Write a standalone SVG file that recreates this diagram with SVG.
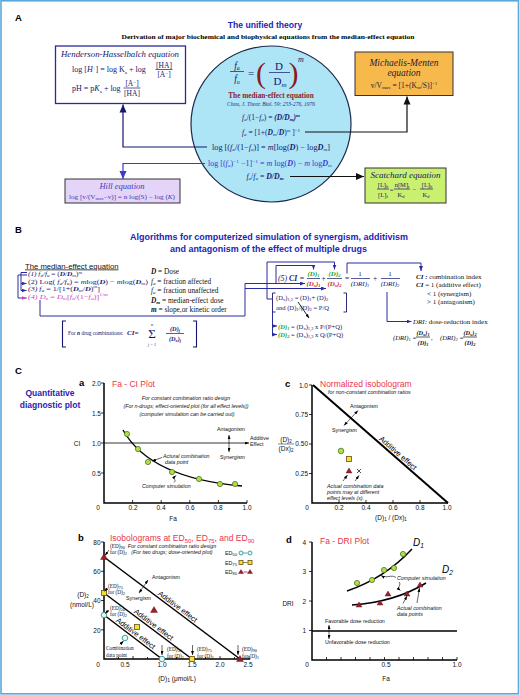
<svg xmlns="http://www.w3.org/2000/svg" width="520" height="695" viewBox="0 0 520 695">
<defs>
<style>
text{font-family:"Liberation Serif","Times New Roman",serif}
.s{font-family:"Liberation Sans",Arial,sans-serif}
.i{font-style:italic}
.b{font-weight:bold}
.nv{fill:#16166e}
.ttl{font-family:"Liberation Sans",Arial,sans-serif;font-weight:bold;fill:#2424b4}
.red{font-family:"Liberation Sans",Arial,sans-serif;fill:#e8364c;font-size:8.5px}
.lbl{font-family:"Liberation Sans",Arial,sans-serif;font-weight:bold;font-size:9.5px;fill:#000}
.ax{stroke:#000;stroke-width:1.5;fill:none}
.tk{stroke:#000;stroke-width:0.8}
.tl{font-family:"Liberation Sans",Arial,sans-serif;font-size:6.5px;fill:#111}
.nt{font-family:"Liberation Sans",Arial,sans-serif;font-size:5.3px;fill:#111}
.gp{fill:#b2de4c;stroke:#4a7a18;stroke-width:0.8}
.yp{fill:#efe03a;stroke:#6a5010;stroke-width:0.8}
.rp{fill:#98202e;stroke:#5a0d14;stroke-width:0.4}
.cp{fill:#e6f6f4;stroke:#2e9898;stroke-width:0.9}
.an{stroke:#000;stroke-width:0.6;fill:none}
.cB{fill:none;stroke:#2b2ba0;stroke-width:1}
.grn{fill:#22a02a}
.rd{fill:#cc2a2a}
.fr{stroke:#16166e;stroke-width:0.7}
.box{stroke:#333;stroke-width:1}
</style>
<marker id="mN" markerUnits="userSpaceOnUse" markerWidth="9" markerHeight="8" refX="8" refY="4" orient="auto"><path d="M0,0.5L8,4L0,7.5z" fill="#16166e"/></marker>
<marker id="mBl" markerUnits="userSpaceOnUse" markerWidth="9" markerHeight="8" refX="8" refY="4" orient="auto"><path d="M0,0.5L8,4L0,7.5z" fill="#3a3ad0"/></marker>
<marker id="mK" markerUnits="userSpaceOnUse" markerWidth="9" markerHeight="8" refX="8" refY="4" orient="auto"><path d="M0,0.5L8,4L0,7.5z" fill="#111"/></marker>
<marker id="mB" markerUnits="userSpaceOnUse" markerWidth="5" markerHeight="4" refX="5" refY="2" orient="auto"><path d="M0,0L5,2L0,4z" fill="#2b2ba0"/></marker>
<marker id="mP" markerUnits="userSpaceOnUse" markerWidth="5" markerHeight="4" refX="5" refY="2" orient="auto"><path d="M0,0L5,2L0,4z" fill="#d040c0"/></marker>
<marker id="mS" markerUnits="userSpaceOnUse" markerWidth="4" markerHeight="3" refX="4" refY="1.5" orient="auto-start-reverse"><path d="M0,0L4,1.5L0,3z" fill="#000"/></marker>
</defs>
<rect x="0" y="0" width="520" height="695" fill="#fff"/>
<rect x="1" y="0.8" width="517.5" height="693" fill="none" stroke="#5aa8dc" stroke-width="1.6"/>

<!-- ============ SECTION A ============ -->
<text class="lbl" x="15" y="21">A</text>
<text class="ttl" x="265" y="28" text-anchor="middle" font-size="8.6">The unified theory</text>
<text class="b" x="268" y="39" text-anchor="middle" font-size="7" textLength="293" lengthAdjust="spacingAndGlyphs">Derivation of major biochemical and biophysical equations from the median-effect equation</text>

<g id="henderson">
<rect x="55.5" y="46" width="130" height="57.5" fill="#fff" stroke="#2a2a9a" stroke-width="1.3"/>
<text class="i nv" x="120" y="56.5" text-anchor="middle" font-size="8.8">Henderson-Hasselbalch equation</text>
<text class="nv" x="72" y="72" font-size="8">log [<tspan class="i">H</tspan><tspan dy="-2.5" font-size="5">+</tspan><tspan dy="2.5">] = log K</tspan><tspan dy="1.5" font-size="5">a</tspan><tspan dy="-1.5">  +  log</tspan></text>
<text class="nv" x="164" y="67.5" text-anchor="middle" font-size="7.5">[HA]</text>
<line class="fr" x1="155.5" y1="69.5" x2="172.5" y2="69.5"/>
<text class="nv" x="164" y="77" text-anchor="middle" font-size="7.5">[A<tspan dy="-2.5" font-size="5">−</tspan><tspan dy="2.5">]</tspan></text>
<text class="nv" x="72" y="91" font-size="8">pH = p<tspan class="i">K</tspan><tspan dy="1.5" font-size="5">a</tspan><tspan dy="-1.5"> + log</tspan></text>
<text class="nv" x="132" y="86" text-anchor="middle" font-size="7.5">[A<tspan dy="-2.5" font-size="5">−</tspan><tspan dy="2.5">]</tspan></text>
<line class="fr" x1="123.5" y1="88" x2="140.5" y2="88"/>
<text class="nv" x="132" y="96" text-anchor="middle" font-size="7.5">[HA]</text>
</g>

<g id="median-effect">
<ellipse cx="271" cy="124" rx="80" ry="78" fill="#ade5f7" stroke="#1c2a4c" stroke-width="1.2"/>
<text class="i nv" x="237" y="68.5" text-anchor="middle" font-size="9.5">f<tspan dy="1.5" font-size="6">a</tspan></text>
<line class="fr" x1="230" y1="71.5" x2="244" y2="71.5"/>
<text class="i nv" x="237" y="82" text-anchor="middle" font-size="9.5">f<tspan dy="1.5" font-size="6">u</tspan></text>
<text class="nv" x="251" y="77" text-anchor="middle" font-size="11">=</text>
<text x="261" y="83" text-anchor="middle" font-size="30" fill="#8b1c1c">(</text>
<text class="nv" x="279" y="69.5" text-anchor="middle" font-size="11">D</text>
<line class="fr" x1="269" y1="72.5" x2="290" y2="72.5"/>
<text class="nv" x="280" y="84.5" text-anchor="middle" font-size="11">D<tspan dy="2" font-size="7" class="i">m</tspan></text>
<text x="293.5" y="83" text-anchor="middle" font-size="30" fill="#8b1c1c">)</text>
<text class="i nv" x="298" y="62" font-size="8">m</text>
<text class="b" x="271" y="97.5" text-anchor="middle" font-size="7.3" fill="#8b1c2c">The median-effect equation</text>
<text class="i" x="271" y="105.5" text-anchor="middle" font-size="5.5" fill="#1a2a80">Chou, J. Theor. Biol. 59: 253-276, 1976</text>
<text class="nv" x="271" y="120" text-anchor="middle" font-size="7.5"><tspan class="i">f</tspan><tspan dy="1.3" font-size="5" class="i">a</tspan><tspan dy="-1.3">/(1−</tspan><tspan class="i">f</tspan><tspan dy="1.3" font-size="5" class="i">a</tspan><tspan dy="-1.3">) = </tspan><tspan class="b i">(D/D</tspan><tspan dy="1.3" font-size="5" class="b i">m</tspan><tspan dy="-1.3" class="b i">)</tspan><tspan dy="-2.8" font-size="5" class="b i">m</tspan></text>
<text class="nv" x="271" y="135" text-anchor="middle" font-size="7.5"><tspan class="i">f</tspan><tspan dy="1.3" font-size="5" class="i">a</tspan><tspan dy="-1.3"> = [1+(</tspan><tspan class="b i">D</tspan><tspan dy="1.3" font-size="5" class="i">m</tspan><tspan dy="-1.3">/</tspan><tspan class="b i">D</tspan><tspan>)</tspan><tspan dy="-2.8" font-size="5" class="i">m</tspan><tspan dy="2.8"> ]</tspan><tspan dy="-2.8" font-size="5">−1</tspan></text>
<text class="nv" x="271" y="150" text-anchor="middle" font-size="7.8" textLength="118" lengthAdjust="spacingAndGlyphs">log [(<tspan class="i">f</tspan><tspan dy="1.3" font-size="5" class="i">a</tspan><tspan dy="-1.3">/(1−</tspan><tspan class="i">f</tspan><tspan dy="1.3" font-size="5" class="i">a</tspan><tspan dy="-1.3">)] = </tspan><tspan class="i">m</tspan><tspan>[log(</tspan><tspan class="b i">D</tspan><tspan>) − log</tspan><tspan class="b i">D</tspan><tspan dy="1.3" font-size="5" class="i">m</tspan><tspan dy="-1.3">]</tspan></text>
<text x="270" y="165.5" text-anchor="middle" font-size="7.5" fill="#3838d0" textLength="124" lengthAdjust="spacingAndGlyphs">log [(<tspan class="i">f</tspan><tspan dy="1.3" font-size="5" class="i">a</tspan><tspan dy="-1.3">)</tspan><tspan dy="-2.8" font-size="5">−1</tspan><tspan dy="2.8"> −1]</tspan><tspan dy="-2.8" font-size="5">−1</tspan><tspan dy="2.8"> = </tspan><tspan class="i">m</tspan><tspan> log(</tspan><tspan class="b i">D</tspan><tspan>) − </tspan><tspan class="i">m</tspan><tspan> log</tspan><tspan class="b i">D</tspan><tspan dy="1.3" font-size="5" class="i">m</tspan></text>
<text class="nv" x="265" y="179" text-anchor="middle" font-size="7.8"><tspan class="i">f</tspan><tspan dy="1.3" font-size="5" class="i">a</tspan><tspan dy="-1.3">/</tspan><tspan class="i">f</tspan><tspan dy="1.3" font-size="5" class="i">u</tspan><tspan dy="-1.3"> = </tspan><tspan class="b i">D/D</tspan><tspan dy="1.3" font-size="5" class="b i">m</tspan></text>
</g>

<g id="michaelis-menten">
<rect class="box" x="355" y="52" width="98" height="43.5" fill="#f8b94c"/>
<text class="i" x="404" y="65.5" text-anchor="middle" font-size="9.5" fill="#1a1a3a">Michaelis-Menten</text>
<text class="i" x="404" y="76" text-anchor="middle" font-size="9.5" fill="#1a1a3a">equation</text>
<text x="404" y="88" text-anchor="middle" font-size="7.5" fill="#1a1a3a">v/V<tspan dy="1.3" font-size="5">max</tspan><tspan dy="-1.3"> = [1+(K</tspan><tspan dy="1.3" font-size="5">m</tspan><tspan dy="-1.3">/S)]</tspan><tspan dy="-2.8" font-size="5">−1</tspan></text>
</g>

<g id="hill">
<rect class="box" x="65" y="179" width="115" height="24" fill="#e4d4f7"/>
<text class="i" x="122" y="188.5" text-anchor="middle" font-size="8.5" fill="#3a3ac0">Hill equation</text>
<text x="122" y="199" text-anchor="middle" font-size="6" fill="#3a3ab8" textLength="106" lengthAdjust="spacingAndGlyphs">log [v/(V<tspan dy="1.2" font-size="4">max</tspan><tspan dy="-1.2">−v)] = n log(S) − log (</tspan><tspan class="i">K</tspan><tspan>)</tspan></text>
</g>

<g id="scatchard">
<rect class="box" x="365" y="168" width="81" height="35" fill="#c9f06e"/>
<text class="i nv" x="405.5" y="177.5" text-anchor="middle" font-size="9">Scatchard equation</text>
<text class="nv" x="383" y="186.5" text-anchor="middle" font-size="6.5">[L]<tspan dy="1.2" font-size="4.5">b</tspan></text>
<line class="fr" x1="377" y1="189" x2="389" y2="189"/>
<text class="nv" x="383" y="197" text-anchor="middle" font-size="6.5">[L]<tspan dy="1.2" font-size="4.5">f</tspan></text>
<text class="nv" x="391.5" y="191.5" text-anchor="middle" font-size="6.5">=</text>
<text class="nv" x="402" y="186.5" text-anchor="middle" font-size="6.5">n[M]<tspan dy="1.2" font-size="4.5">t</tspan></text>
<line class="fr" x1="394" y1="189" x2="410" y2="189"/>
<text class="nv" x="401" y="197" text-anchor="middle" font-size="6.5">K<tspan dy="1.2" font-size="4.5">d</tspan></text>
<text class="nv" x="414.5" y="191.5" text-anchor="middle" font-size="6.5">−</text>
<text class="nv" x="427" y="186.5" text-anchor="middle" font-size="6.5">[L]<tspan dy="1.2" font-size="4.5">b</tspan></text>
<line class="fr" x1="420" y1="189" x2="433" y2="189"/>
<text class="nv" x="426" y="197" text-anchor="middle" font-size="6.5">K<tspan dy="1.2" font-size="4.5">d</tspan></text>
</g>

<g id="connectors-A" fill="none" stroke-width="1.2">
<path d="M207,147 H123 V104.5" stroke="#16166e" marker-end="url(#mN)"/>
<path d="M205,163.5 H123 V179" stroke="#3a3ad0" marker-end="url(#mBl)"/>
<path d="M305,132 H407 V96.5" stroke="#111" marker-end="url(#mK)"/>
<path d="M290,176.5 H364" stroke="#111" marker-end="url(#mK)"/>
</g>

<!-- ============ SECTION B ============ -->
<text class="lbl" x="15" y="233">B</text>
<text class="ttl" x="269" y="239.5" text-anchor="middle" font-size="8.4" textLength="278" lengthAdjust="spacingAndGlyphs">Algorithms for computerized simulation of synergism, additivism</text>
<text class="ttl" x="268.5" y="252" text-anchor="middle" font-size="8.4" textLength="197" lengthAdjust="spacingAndGlyphs">and antagonism of the effect of multiple drugs</text>

<g id="median-effect-list">
<text class="s" x="25" y="268.5" font-size="7.7" fill="#111" text-decoration="underline">The median-effect equation</text>
<text class="nv" x="28" y="276" font-size="6.6" textLength="54" lengthAdjust="spacingAndGlyphs"><tspan class="i">(1)  f</tspan><tspan dy="1.2" font-size="4.5" class="i">a</tspan><tspan dy="-1.2" class="i">/f</tspan><tspan dy="1.2" font-size="4.5" class="i">u</tspan><tspan dy="-1.2"> = (</tspan><tspan class="b i">D</tspan><tspan>/</tspan><tspan class="b i">D</tspan><tspan dy="1.2" font-size="4.5" class="i">m</tspan><tspan dy="-1.2">)</tspan><tspan dy="-2.3" font-size="4.5" class="i">m</tspan></text>
<text class="nv" x="28" y="283.5" font-size="6.6" textLength="120" lengthAdjust="spacingAndGlyphs">(2)  Log( <tspan class="i">f</tspan><tspan dy="1.2" font-size="4.5" class="i">a</tspan><tspan dy="-1.2" class="i">/f</tspan><tspan dy="1.2" font-size="4.5" class="i">u</tspan><tspan dy="-1.2">) = </tspan><tspan class="i">m</tspan><tspan>log(</tspan><tspan class="b i">D</tspan><tspan>) − </tspan><tspan class="i">m</tspan><tspan>log(</tspan><tspan class="b i">D</tspan><tspan dy="1.2" font-size="4.5" class="i">m</tspan><tspan dy="-1.2">)</tspan></text>
<text class="nv" x="28" y="290.5" font-size="6.6" textLength="72" lengthAdjust="spacingAndGlyphs"><tspan class="i">(3)  f</tspan><tspan dy="1.2" font-size="4.5" class="i">a</tspan><tspan dy="-1.2"> = 1/[1+(</tspan><tspan class="b i">D</tspan><tspan dy="1.2" font-size="4.5" class="i">m</tspan><tspan dy="-1.2">/</tspan><tspan class="b i">D</tspan><tspan>)</tspan><tspan dy="-2.3" font-size="4.5" class="i">m</tspan><tspan dy="2.3">]</tspan></text>
<text x="28" y="298.5" font-size="6.6" fill="#d040c0" textLength="80" lengthAdjust="spacingAndGlyphs"><tspan class="i">(4)  D</tspan><tspan dy="1.2" font-size="4.5" class="i">x</tspan><tspan dy="-1.2"> = </tspan><tspan class="i">D</tspan><tspan dy="1.2" font-size="4.5" class="i">m</tspan><tspan dy="-1.2">[</tspan><tspan class="i">f</tspan><tspan dy="1.2" font-size="4.5" class="i">a</tspan><tspan dy="-1.2">/(1−</tspan><tspan class="i">f</tspan><tspan dy="1.2" font-size="4.5" class="i">a</tspan><tspan dy="-1.2">)]</tspan><tspan dy="-2.3" font-size="4.5">1/m</tspan></text>
</g>

<g id="definitions" font-size="7.3" fill="#111">
<text x="151" y="274"><tspan class="b i">D</tspan> = Dose</text>
<text x="151" y="283.5"><tspan class="i">f</tspan><tspan dy="1.3" font-size="5" class="i">a</tspan><tspan dy="-1.3"> = fraction affected</tspan></text>
<text x="151" y="292.5"><tspan class="i">f</tspan><tspan dy="1.3" font-size="5" class="i">u</tspan><tspan dy="-1.3"> = fraction unaffected</tspan></text>
<text x="151" y="302.5"><tspan class="b i">D</tspan><tspan dy="1.3" font-size="5" class="b i">m</tspan><tspan dy="-1.3"> = median-effect dose</tspan></text>
<text x="151" y="311.5"><tspan class="b i">m</tspan> = slope,or kinetic order</text>
</g>

<g id="ci-equation">
<text class="i nv" x="278" y="281" font-size="7.8">(5) <tspan class="b">CI</tspan> =</text>
<text class="b i grn" x="313.5" y="276" text-anchor="middle" font-size="7">(D)<tspan dy="1.2" font-size="4.5">1</tspan></text>
<line class="fr" x1="307" y1="278.5" x2="320" y2="278.5"/>
<text class="b i rd" x="313.5" y="286" text-anchor="middle" font-size="7">(D<tspan dy="1.2" font-size="4.5">x</tspan><tspan dy="-1.2">)</tspan><tspan dy="1.2" font-size="4.5">1</tspan></text>
<text class="nv" x="323.5" y="281" text-anchor="middle" font-size="7.5">+</text>
<text class="b i grn" x="334.5" y="276" text-anchor="middle" font-size="7">(D)<tspan dy="1.2" font-size="4.5">2</tspan></text>
<line class="fr" x1="327" y1="278.5" x2="342" y2="278.5"/>
<text class="b i rd" x="334.5" y="286" text-anchor="middle" font-size="7">(D<tspan dy="1.2" font-size="4.5">x</tspan><tspan dy="-1.2">)</tspan><tspan dy="1.2" font-size="4.5">2</tspan></text>
<text class="nv" x="347" y="281" text-anchor="middle" font-size="7.5">=</text>
<text class="nv" x="360" y="276" text-anchor="middle" font-size="7">1</text>
<line class="fr" x1="351" y1="278.5" x2="370" y2="278.5"/>
<text class="i nv" x="360" y="286" text-anchor="middle" font-size="7">(DRI)<tspan dy="1.2" font-size="4.5">1</tspan></text>
<text class="nv" x="375" y="281" text-anchor="middle" font-size="7.5">+</text>
<text class="nv" x="390" y="276" text-anchor="middle" font-size="7">1</text>
<line class="fr" x1="381" y1="278.5" x2="400" y2="278.5"/>
<text class="i nv" x="390" y="286" text-anchor="middle" font-size="7">(DRI)<tspan dy="1.2" font-size="4.5">2</tspan></text>
</g>

<g id="ci-legend" font-size="7" fill="#111">
<text x="416" y="278.5"><tspan class="b i">CI :</tspan> combination index</text>
<text x="416" y="287"><tspan class="b i">CI</tspan> = 1 (additive effect)</text>
<text x="427" y="295.5">&lt; 1 (synergism)</text>
<text x="427" y="304">&gt; 1 (antagonism)</text>
</g>

<g id="dose-split" font-size="6.6" class="nv">
<path d="M275.5,293 H272.5 V312 H275.5 M343.5,293 H346.5 V312 H343.5" fill="none" stroke="#16166e" stroke-width="0.9"/>
<text x="276" y="300">(D<tspan dy="1.2" font-size="4.5">x</tspan><tspan dy="-1.2">)</tspan><tspan dy="1.2" font-size="4.5">1,2</tspan><tspan dy="-1.2"> = (D)</tspan><tspan dy="1.2" font-size="4.5">1</tspan><tspan dy="-1.2">+ (D)</tspan><tspan dy="1.2" font-size="4.5">2</tspan></text>
<text x="276" y="310">and (D)<tspan dy="1.2" font-size="4.5">1</tspan><tspan dy="-1.2">/(D)</tspan><tspan dy="1.2" font-size="4.5">2</tspan><tspan dy="-1.2"> = P/Q</tspan></text>
<text x="278" y="328.5"><tspan class="b i grn">(D)</tspan><tspan dy="1.2" font-size="4.5" class="b i grn">1</tspan><tspan dy="-1.2"> = (D</tspan><tspan dy="1.2" font-size="4.5">x</tspan><tspan dy="-1.2">)</tspan><tspan dy="1.2" font-size="4.5">1,2</tspan><tspan dy="-1.2"> x P/(P+Q)</tspan></text>
<text x="278" y="337"><tspan class="b i grn">(D)</tspan><tspan dy="1.2" font-size="4.5" class="b i grn">2</tspan><tspan dy="-1.2"> = (D</tspan><tspan dy="1.2" font-size="4.5">x</tspan><tspan dy="-1.2">)</tspan><tspan dy="1.2" font-size="4.5">1,2</tspan><tspan dy="-1.2"> x Q/(P+Q)</tspan></text>
</g>

<g id="dri" fill="#111" font-size="7">
<text x="413" y="324"><tspan class="i">DRI:</tspan> dose-reduction index</text>
<text class="i" x="393" y="339.5" font-size="6.6">(DRI)<tspan dy="1.2" font-size="4.5">1</tspan><tspan dy="-1.2"> =</tspan></text>
<text class="b i" x="423" y="335" text-anchor="middle" font-size="6.3">(D<tspan dy="1.2" font-size="4.3">x</tspan><tspan dy="-1.2">)</tspan><tspan dy="1.2" font-size="4.3">1</tspan></text>
<line x1="416" y1="337" x2="430" y2="337" stroke="#111" stroke-width="0.7"/>
<text class="b i" x="423" y="344.5" text-anchor="middle" font-size="6.3">(D)<tspan dy="1.2" font-size="4.3">1</tspan></text>
<text x="431" y="339.5" font-size="6.6">,</text>
<text class="i" x="440" y="339.5" font-size="6.6">(DRI)<tspan dy="1.2" font-size="4.5">2</tspan><tspan dy="-1.2"> =</tspan></text>
<text class="b i" x="470" y="335" text-anchor="middle" font-size="6.3">(D<tspan dy="1.2" font-size="4.3">x</tspan><tspan dy="-1.2">)</tspan><tspan dy="1.2" font-size="4.3">2</tspan></text>
<line x1="463" y1="337" x2="477" y2="337" stroke="#111" stroke-width="0.7"/>
<text class="b i" x="470" y="344.5" text-anchor="middle" font-size="6.3">(D)<tspan dy="1.2" font-size="4.3">2</tspan></text>
</g>

<g id="n-drug" class="nv">
<path d="M66,321 H62.5 V347 H66 M193,321 H196.5 V347 H193" fill="none" stroke="#16166e" stroke-width="1.1"/>
<text x="68" y="334.5" font-size="5.4">For</text>
<text class="b i" x="77" y="334.5" font-size="5.4">n</text>
<text x="81.5" y="334.5" font-size="5.4">drug combinations:</text>
<text class="b i" x="127" y="334.5" font-size="7">CI=</text>
<text x="152" y="338" text-anchor="middle" font-size="13">Σ</text>
<text class="i" x="152" y="326" text-anchor="middle" font-size="4.5">n</text>
<text class="i" x="152" y="345.5" text-anchor="middle" font-size="4">j = 1</text>
<text class="b i" x="175" y="331" text-anchor="middle" font-size="6.3">(D)<tspan dy="1.2" font-size="4.3">j</tspan></text>
<line class="fr" x1="166" y1="333.5" x2="184" y2="333.5"/>
<text class="b i" x="175" y="341" text-anchor="middle" font-size="6.3">(D<tspan dy="1.2" font-size="4.3">x</tspan><tspan dy="-1.2">)</tspan><tspan dy="1.2" font-size="4.3">j</tspan></text>
</g>

<g id="connectors-B">
<path class="cB" d="M27,272.5 H21 V290.5 H26.5" marker-end="url(#mB)"/>
<path class="cB" d="M21,283.5 H26.5" marker-end="url(#mB)"/>
<path class="cB" d="M27,275 H18 V298 H26.5" marker-end="url(#mP)"/>
<path class="cB" d="M40,300 V316 H245 V283.5 H305" marker-end="url(#mB)"/>
<path class="cB" d="M245,288.5 H326" marker-end="url(#mB)"/>
<path class="cB" d="M272.5,299 H267 V262 H334.5 V269.5" marker-end="url(#mB)"/>
<path class="cB" d="M276,283.5 V265.5 H313.5 V269.5" marker-end="url(#mB)"/>
<path class="cB" d="M347,273.5 V263 H421 V271" marker-end="url(#mB)"/>
<path class="cB" d="M387,292 V321.5 H411.5" marker-end="url(#mB)"/>
<path class="cB" d="M272.5,312 V334.5 H277" marker-end="url(#mB)"/>
<path class="cB" d="M272.5,326 H277" marker-end="url(#mB)"/>
<path d="M298,302 L309,318" stroke="#111" stroke-width="0.9" fill="none" marker-end="url(#mS)"/>
</g>

<!-- ============ SECTION C ============ -->
<text class="lbl" x="15" y="374">C</text>
<text class="ttl" x="50" y="396" text-anchor="middle" font-size="8.5">Quantitative</text>
<text class="ttl" x="50" y="407.5" text-anchor="middle" font-size="8.5">diagnostic plot</text>

<g id="plot-a">
<text class="lbl" x="79" y="385.5">a</text>
<text class="red" x="112" y="387">Fa - CI Plot</text>
<text class="nt i" x="186" y="400" text-anchor="middle" font-size="5.8">For constant combination ratio design</text>
<text class="nt i" x="186" y="408" text-anchor="middle" font-size="5.8">(For n-drugs; effect-oriented plot (for all effect levels))</text>
<text class="nt i" x="187" y="416" text-anchor="middle" font-size="5.8">(computer simulation can be carried out)</text>
<path class="ax" d="M104,383 V503 H247"/>
<path class="tk" d="M101,383H104M101,413H104M101,443H104M101,473H104M132.6,503V500M161.2,503V500M189.8,503V500M218.4,503V500M247,503V500"/>
<text class="tl" x="101" y="385.5" text-anchor="end">2.0</text>
<text class="tl" x="101" y="415.5" text-anchor="end">1.5</text>
<text class="tl" x="101" y="445.5" text-anchor="end">1.0</text>
<text class="tl" x="101" y="475.5" text-anchor="end">0.5</text>
<text class="tl" x="98" y="510" text-anchor="middle">0</text>
<text class="tl" x="133" y="510" text-anchor="middle">0.2</text>
<text class="tl" x="161" y="510" text-anchor="middle">0.4</text>
<text class="tl" x="190" y="510" text-anchor="middle">0.6</text>
<text class="tl" x="218" y="510" text-anchor="middle">0.8</text>
<text class="tl" x="247" y="510" text-anchor="middle">1.0</text>
<text class="tl" x="173" y="521" text-anchor="middle" font-size="7">Fa</text>
<text class="tl" x="77" y="445.5" text-anchor="middle" font-size="7">CI</text>
<path d="M104,443 H249" stroke="#000" stroke-width="0.8" fill="none" marker-end="url(#mS)"/>
<text class="nt" x="250" y="440" font-size="5">Additive</text>
<text class="nt" x="250" y="446" font-size="5">Effect</text>
<text class="nt" x="217" y="431">Antagonism</text>
<text class="nt" x="220" y="459">Synergism</text>
<path class="an" d="M229,435 V452" marker-start="url(#mS)" marker-end="url(#mS)"/>
<path d="M123,430 Q150,478 242,486" stroke="#000" stroke-width="1.4" fill="none"/>
<circle class="gp" cx="127" cy="434" r="2.6"/>
<circle class="gp" cx="138" cy="449" r="2.6"/>
<circle class="gp" cx="148" cy="462" r="2.6"/>
<circle class="gp" cx="172" cy="472" r="2.6"/>
<circle class="gp" cx="199" cy="479" r="2.6"/>
<circle class="gp" cx="220" cy="484" r="2.6"/>
<circle class="gp" cx="235" cy="484" r="2.6"/>
<text class="nt i" x="163" y="458">Actural combination</text>
<text class="nt i" x="165" y="464">data point</text>
<path class="an" d="M162,457.5 L152,461" marker-end="url(#mS)"/>
<text class="nt i" x="142" y="487.5">Computer simulation</text>
<path class="an" d="M174,482.5 C177,480 172,479 176,475.5" marker-end="url(#mS)"/>
</g>

<g id="plot-c">
<text class="lbl" x="285" y="386.5">c</text>
<text class="red" x="320" y="387">Normalized isobologram</text>
<text class="nt i" x="328" y="393.5">for non-constant combination ratios</text>
<path class="ax" d="M312,385 V503 H448"/>
<path class="tk" d="M309,385H312M309,414.5H312M309,444H312M309,473.5H312M339,503V500M366,503V500M393,503V500M420,503V500"/>
<text class="tl" x="308" y="387.5" text-anchor="end">1.0</text>
<text class="tl" x="308" y="416.5" text-anchor="end">0.75</text>
<text class="tl" x="308" y="446" text-anchor="end">0.50</text>
<text class="tl" x="308" y="475.5" text-anchor="end">0.25</text>
<text class="tl" x="307" y="510" text-anchor="middle">0</text>
<text class="tl" x="339" y="510" text-anchor="middle">0.2</text>
<text class="tl" x="366" y="510" text-anchor="middle">0.4</text>
<text class="tl" x="393" y="510" text-anchor="middle">0.6</text>
<text class="tl" x="420" y="510" text-anchor="middle">0.8</text>
<text class="tl" x="447" y="510" text-anchor="middle">1.0</text>
<text class="tl" x="286" y="441.5" text-anchor="middle">(D)<tspan dy="1.3" font-size="4.5">2</tspan></text>
<line x1="278" y1="444" x2="294" y2="444" stroke="#111" stroke-width="0.5"/>
<text class="tl" x="286" y="450.5" text-anchor="middle">(Dx)<tspan dy="1.3" font-size="4.5">2</tspan></text>
<text class="tl" x="391" y="520" text-anchor="middle">(D)<tspan dy="1.3" font-size="4.5">1</tspan><tspan dy="-1.3"> / (Dx)</tspan><tspan dy="1.3" font-size="4.5">1</tspan></text>
<path d="M313,385 L448,503" stroke="#000" stroke-width="2" fill="none"/>
<text class="s" transform="translate(396.3,455) rotate(41.2)" text-anchor="middle" font-size="7.5" fill="#000">Additive effect</text>
<text class="nt" x="350" y="408">Antagonism</text>
<text class="nt" x="332" y="432">Synergism</text>
<path class="an" d="M358,410.5 L344,425.5" marker-start="url(#mS)" marker-end="url(#mS)"/>
<circle class="gp" cx="341" cy="451" r="2.8"/>
<rect class="yp" x="346.5" y="456.5" width="5" height="5"/>
<path class="rp" d="M349,468 L352,473 L346,473 Z"/>
<path d="M357,469 L361,473 M361,469 L357,473" stroke="#000" stroke-width="0.7"/>
<path class="an" d="M343,481 L347.5,475" marker-end="url(#mS)"/>
<path class="an" d="M355,481 L359,475.5" marker-end="url(#mS)"/>
<text class="nt i" x="327" y="487.5" font-size="4.8">Actual combination data</text>
<text class="nt i" x="327" y="493.5" font-size="4.8">points may at different</text>
<text class="nt i" x="327" y="499.5" font-size="4.8">effect levels (x).</text>
</g>

<g id="plot-b">
<text class="lbl" x="78" y="541">b</text>
<text class="red" x="110" y="541">Isobolograms at ED<tspan dy="1.5" font-size="6">50</tspan><tspan dy="-1.5">, ED</tspan><tspan dy="1.5" font-size="6">75</tspan><tspan dy="-1.5">, and ED</tspan><tspan dy="1.5" font-size="6">90</tspan></text>
<text class="nt i" x="172" y="548" text-anchor="middle" font-size="4.6">For constant combination ratio design</text>
<text class="nt i" x="172" y="554" text-anchor="middle" font-size="4.6">(For two drugs; dose-oriented plot)</text>
<path class="ax" d="M104,542 V659 H250"/>
<path class="tk" d="M101,542H104M101,571.3H104M101,600.5H104M101,629.8H104M133,659V656M162,659V656M191,659V656M220,659V656M249,659V656M118.5,659V657M147.5,659V657M176.5,659V657M205.5,659V657M234.5,659V657"/>
<text class="tl" x="100.5" y="544.5" text-anchor="end">80</text>
<text class="tl" x="100.5" y="573.5" text-anchor="end">60</text>
<text class="tl" x="100.5" y="603" text-anchor="end">40</text>
<text class="tl" x="100.5" y="632.5" text-anchor="end">20</text>
<text class="tl" x="98" y="667" text-anchor="middle">0</text>
<text class="tl" x="125" y="667" text-anchor="middle">0.5</text>
<text class="tl" x="162" y="667" text-anchor="middle">1.0</text>
<text class="tl" x="192" y="667" text-anchor="middle">1.5</text>
<text class="tl" x="220" y="667" text-anchor="middle">2.0</text>
<text class="tl" x="248" y="667" text-anchor="middle">2.5</text>
<text class="tl" x="83" y="596.5" text-anchor="middle">(D)<tspan dy="1.3" font-size="4.5">2</tspan></text>
<text class="tl" x="82" y="607" text-anchor="middle" font-size="5.8">(nmol/L)</text>
<text class="tl" x="177" y="680.5" text-anchor="middle" font-size="7">(D)<tspan dy="1.3" font-size="5">1</tspan><tspan dy="-1.3"> (μmol/L)</tspan></text>
<text class="nt" x="225" y="555" font-size="6">ED<tspan dy="1" font-size="4.3">50</tspan></text>
<circle class="cp" cx="241" cy="553" r="2"/><line x1="243" y1="553" x2="247.5" y2="553" stroke="#2e9898" stroke-width="0.8"/><circle class="cp" cx="250" cy="553" r="2"/>
<text class="nt" x="225" y="564.5" font-size="6">ED<tspan dy="1" font-size="4.3">75</tspan></text>
<rect class="yp" x="239" y="560.5" width="4" height="4"/><line x1="243" y1="562.5" x2="247.5" y2="562.5" stroke="#7a5a10" stroke-width="0.8"/><rect class="yp" x="248" y="560.5" width="4" height="4"/>
<text class="nt" x="225" y="574" font-size="6">ED<tspan dy="1" font-size="4.3">90</tspan></text>
<path class="rp" d="M241,569.5 L243.5,573.5 L238.5,573.5 Z M250,569.5 L252.5,573.5 L247.5,573.5 Z"/><line x1="243.5" y1="572" x2="247.5" y2="572" stroke="#98202e" stroke-width="0.8"/>
<path d="M104,557 L240,659 M104,593 L192,659 M104,615 L162,659" stroke="#000" stroke-width="1.5" fill="none"/>
<text class="s" transform="translate(176.2,608.6) rotate(36.9)" text-anchor="middle" font-size="7.5" fill="#000">Additive effect</text>
<text class="s" transform="translate(152.2,626.6) rotate(36.9)" text-anchor="middle" font-size="7.5" fill="#000">Additive effect</text>
<text class="s" transform="translate(134.2,635.4) rotate(37.2)" text-anchor="middle" font-size="7.5" fill="#000">Additive effect</text>
<path class="rp" d="M104,553.5 L107.5,559.5 L100.5,559.5 Z M240,655.5 L243.5,661.5 L236.5,661.5 Z M154,606.5 L157.5,612.5 L150.5,612.5 Z"/>
<rect class="yp" x="101.5" y="590.5" width="5" height="5"/>
<rect class="yp" x="189.5" y="656.5" width="5" height="5"/>
<rect class="yp" x="134.5" y="624.5" width="5" height="5"/>
<circle class="cp" cx="104" cy="615" r="2.8"/>
<circle class="cp" cx="162" cy="659" r="2.8"/>
<circle class="cp" cx="125" cy="638" r="2.8"/>
<g class="nt" font-size="6">
<text x="110" y="547.5">(ED)<tspan dy="1" font-size="4.5">90</tspan></text>
<text x="110" y="554">for (D)<tspan dy="1" font-size="4.5">2</tspan></text>
<text x="108" y="587.5">(ED)<tspan dy="1" font-size="4.5">75</tspan></text>
<text x="108" y="594">for (D)<tspan dy="1" font-size="4.5">2</tspan></text>
<text x="110" y="609.5">(ED)<tspan dy="1" font-size="4.5">50</tspan></text>
<text x="110" y="616">for (D)<tspan dy="1" font-size="4.5">2</tspan></text>
<text x="167" y="651">(ED)<tspan dy="1" font-size="4.5">50</tspan></text>
<text x="167" y="658">for (D)<tspan dy="1" font-size="4.5">1</tspan></text>
<text x="197" y="651">(ED)<tspan dy="1" font-size="4.5">75</tspan></text>
<text x="197" y="658">for (D)<tspan dy="1" font-size="4.5">1</tspan></text>
<text x="242" y="651">(ED)<tspan dy="1" font-size="4.5">90</tspan></text>
<text x="242" y="658">for (D)<tspan dy="1" font-size="4.5">1</tspan></text>
<text x="106" y="650">Combination</text>
<text x="106" y="656.5">data point</text>
</g>
<text class="nt" x="152" y="579" font-size="5.5">Antagonism</text>
<text class="nt" x="126" y="600" font-size="5.5">Synergism</text>
<path class="an" d="M148,580 L139,593" marker-start="url(#mS)" marker-end="url(#mS)"/>
<path class="an" d="M109,550 L105,555.5" marker-end="url(#mS)"/>
<path class="an" d="M107.5,588 L104.5,591.5" marker-end="url(#mS)"/>
<path class="an" d="M109,610 L105,613.5" marker-end="url(#mS)"/>
<path class="an" d="M162,645 V655" marker-end="url(#mS)"/>
<path class="an" d="M192.5,645 V655" marker-end="url(#mS)"/>
<path class="an" d="M238,645 V655" marker-end="url(#mS)"/>
<path class="an" d="M120,644.5 L123.5,641" marker-end="url(#mS)"/>
</g>

<g id="plot-d">
<text class="lbl" x="286" y="542.5">d</text>
<text class="red" x="320" y="544">Fa - DRI Plot</text>
<path class="ax" d="M312,542 V660 H457"/>
<path class="tk" d="M309,542H312M309,571.5H312M309,601H312M309,630.5H312M326.5,660V657M341,660V657M355.5,660V657M370,660V657M384.5,660V657M399,660V657M413.5,660V657M428,660V657M442.5,660V657M457,660V657"/>
<text class="tl" x="306" y="544.5" text-anchor="end">4</text>
<text class="tl" x="306" y="574" text-anchor="end">3</text>
<text class="tl" x="306" y="603.5" text-anchor="end">2</text>
<text class="tl" x="306" y="633" text-anchor="end">1</text>
<text class="tl" x="307" y="667" text-anchor="middle">0</text>
<text class="tl" x="386" y="667" text-anchor="middle">0.5</text>
<text class="tl" x="457" y="667" text-anchor="middle">1.0</text>
<text class="tl" x="386" y="680.5" text-anchor="middle" font-size="7">Fa</text>
<text class="tl" x="288" y="605.5" text-anchor="middle" font-size="7">DRI</text>
<path d="M312,631 H457" stroke="#000" stroke-width="1.5"/>
<text class="nt" x="325" y="623" font-size="5">Favorable dose reduction</text>
<text class="nt" x="325" y="644" font-size="5">Unfavorable dose reduction</text>
<path class="an" d="M329,625 V639" marker-start="url(#mS)" marker-end="url(#mS)"/>
<path d="M347,591 Q385,578 412,549" stroke="#000" stroke-width="1.5" fill="none"/>
<path d="M352,605 Q395,602 426,583" stroke="#000" stroke-width="1.5" fill="none"/>
<circle class="gp" cx="357" cy="583" r="2.6"/>
<circle class="gp" cx="372" cy="580" r="2.6"/>
<circle class="gp" cx="384" cy="570" r="2.6"/>
<circle class="gp" cx="394" cy="568" r="2.6"/>
<circle class="gp" cx="403" cy="554" r="2.6"/>
<path class="rp" d="M359,602 L362,607 L356,607 Z M380,600 L383,605 L377,605 Z M388,591 L391,596 L385,596 Z M407,591 L410,596 L404,596 Z M420,582 L423,587 L417,587 Z"/>
<text class="s i" x="413" y="545.5" font-size="10" fill="#000">D<tspan dy="2" font-size="6.5">1</tspan></text>
<text class="s i" x="442" y="572.5" font-size="10" fill="#000">D<tspan dy="2" font-size="6.5">2</tspan></text>
<text class="nt i" x="397" y="580">Computer simulation</text>
<path class="an" d="M396,577.5 C391,574 387,579 381,575.5" marker-end="url(#mS)"/>
<path class="an" d="M399,582 C402,585 396,587 400.5,590.5" marker-end="url(#mS)"/>
<text class="nt i" x="397" y="609.5">Actual combination</text>
<text class="nt i" x="397" y="615.5">data points</text>
<path class="an" d="M403,603.5 L407,596" marker-end="url(#mS)"/>
<path class="an" d="M417,603 L419.5,588" marker-end="url(#mS)"/>
</g>
</svg>
